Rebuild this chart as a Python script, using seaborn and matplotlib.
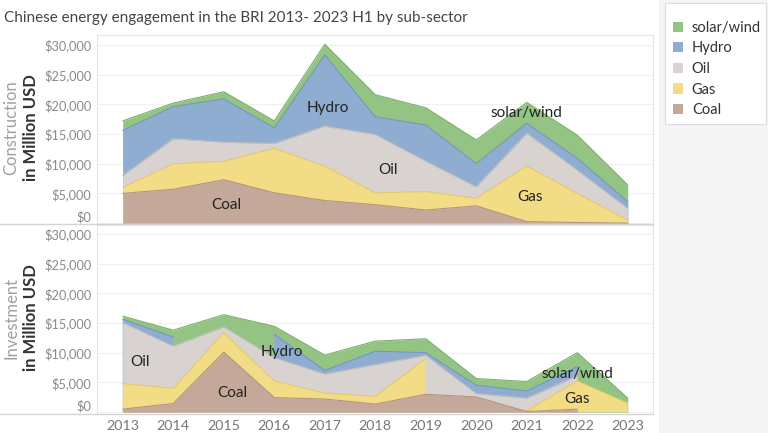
import matplotlib.pyplot as plt
import matplotlib.patches as mpatches
import matplotlib.lines as mlines
import matplotlib.transforms as mtrans
import numpy as np
import seaborn as sns

years = list(range(2013, 2024))
sectors = ["Coal", "Gas", "Oil", "Hydro", "solar/wind"]

# Construction, million USD (nan = no record that year)
con_coal = [5000, 5700, 7300, 5100, 3800, 3100, 2200, 2900, 250, 100, 0]
con_gas = [1000, 4300, 3100, 7500, 5800, 2000, 3100, 1300, 9350, 4900, 500]
con_oil = [2000, 4200, 3200, 800, 6700, 9800, 5100, 1900, 5500, 3900, 1950]
con_hydro = [7600, 5400, 7300, 2600, 12000, 3000, 6100, 3900, 1700, 2000, 1150]
con_solar = [1600, 600, 1200, 1200, 1800, 3700, 2900, 4000, 3500, 3900, 2800]

# Investment, million USD
inv_coal = [500, 1450, 10100, 2450, 2200, 1350, 3000, 2550, 100, 500, np.nan]
inv_gas = [4300, 2550, 3250, 2800, 1000, 1300, 6000, np.nan, 100, 4750, 1500]
inv_oil = [10250, 7100, 1000, 3900, 3200, 5350, 550, 550, 2150, 850, np.nan]
inv_hydro = [600, 1550, np.nan, 3950, 600, 2250, 450, 1450, 1200, 1550, np.nan]
inv_solar = [500, 1150, 2050, 1350, 2600, 1700, 2350, 1100, 1600, 2350, 850]

colors = ["#c4a899", "#f3dc86", "#d8d3d0", "#8eadd0", "#93c483"]
edges = ["#b39483", "#e6c96a", "#c6bfbb", "#7597bf", "#7bb06a"]

sns.set_theme(style="white")
plt.rcParams["font.family"] = ["Lato", "DejaVu Sans"]

fig = plt.figure(figsize=(7.68, 4.33), dpi=100)
W, H = 768, 433


def box(x0, y0, x1, y1):
    return [x0 / W, 1 - y1 / H, (x1 - x0) / W, (y1 - y0) / H]


# light grey side panel and legend box
fig.patches.append(mpatches.Rectangle((659 / W, 0), 1, 1, transform=fig.transFigure,
                                      facecolor="#f4f4f4", edgecolor="none", zorder=0))
fig.patches.append(mpatches.Rectangle((665 / W, 1 - 124 / H), 101 / W, 121 / H,
                                      transform=fig.transFigure, facecolor="white",
                                      edgecolor="#dcdcdc", lw=0.8, zorder=1))
# panel separators running across the label column
for yy in (224.5, 413.5):
    fig.lines.append(mlines.Line2D([0, 653 / W], [1 - yy / H] * 2, transform=fig.transFigure,
                                   color="#d4d4d4", lw=1.0))

ax1 = fig.add_axes(box(97, 35, 653, 224))
ax2 = fig.add_axes(box(97, 225, 653, 413))


def draw(ax, series):
    vals = np.array(series, dtype=float)
    cum = np.cumsum(np.nan_to_num(vals), axis=0)
    for i in reversed(range(len(sectors))):
        top = np.where(np.isnan(vals[i]), np.nan, cum[i])
        ax.fill_between(years, 0, top, color=colors[i], lw=0, zorder=2)
        ax.plot(years, top, color=edges[i], lw=0.8, zorder=3)


draw(ax1, [con_coal, con_gas, con_oil, con_hydro, con_solar])
draw(ax2, [inv_coal, inv_gas, inv_oil, inv_hydro, inv_solar])

lift = mtrans.ScaledTranslation(0, 7 / 100, fig.dpi_scale_trans)
for ax, ytop in [(ax1, 31650), (ax2, 31500)]:
    ax.set_xlim(2012.49, 2023.5)
    ax.set_ylim(-150, ytop)
    ax.set_yticks(range(0, 30001, 5000))
    ax.set_yticklabels([f"${v:,}" for v in range(0, 30001, 5000)], color="#8a8a8a", fontsize=9.2)
    ax.tick_params(axis="y", length=0, pad=4)
    ax.grid(axis="y", color="#f0f0f0", lw=0.8, zorder=0)
    zero = ax.get_yticklabels()[0]
    zero.set_transform(zero.get_transform() + lift)
    for s in ["left", "right", "top"]:
        ax.spines[s].set_color("#e4e4e4")
        ax.spines[s].set_linewidth(0.8)
    ax.spines["bottom"].set_visible(False)

ax1.set_xticks([])
ax2.set_xticks(years)
ax2.set_xticklabels([str(y) for y in years], color="#777777", fontsize=10.3)
ax2.tick_params(axis="x", length=0, pad=5)

# axis titles: two lines, light grey and dark
for name, yc in [("Construction", 128), ("Investment", 318)]:
    fig.text(11 / W, 1 - yc / H, name, rotation=90, ha="center", va="center",
             color="#a0a0a0", fontsize=12)
    fig.text(31 / W, 1 - yc / H, "in Million USD", rotation=90, ha="center", va="center",
             color="#333333", fontsize=12, fontweight="bold")

fig.text(4 / W, 1 - 18 / H, "Chinese energy engagement in the BRI 2013- 2023 H1 by sub-sector",
         ha="left", va="center", color="#444444", fontsize=11)

# in-chart labels
lab = dict(ha="center", va="center", color="#222222", fontsize=11, zorder=5)
ax1.text(2017.06, 19400, "Hydro", **lab)
ax1.text(2018.25, 8900, "Oil", **lab)
ax1.text(2015.06, 3000, "Coal", **lab)
ax1.text(2021.0, 18500, "solar/wind", **lab)
ax1.text(2021.06, 4400, "Gas", **lab)
ax2.text(2013.34, 8400, "Oil", **lab)
ax2.text(2015.16, 3300, "Coal", **lab)
ax2.text(2016.15, 10200, "Hydro", **lab)
ax2.text(2022.0, 6400, "solar/wind", **lab)
ax2.text(2022.0, 2200, "Gas", **lab)

handles = [mpatches.Patch(facecolor=colors[i], edgecolor="none", label=sectors[i])
           for i in reversed(range(len(sectors)))]
fig.legend(handles=handles, loc="upper left", bbox_to_anchor=(667 / W, 1 - 15 / H),
           frameon=False, fontsize=10.5, handlelength=0.7, handleheight=0.7,
           handletextpad=0.6, labelspacing=0.45, labelcolor="#333333", borderaxespad=0)

fig.savefig("out.png", dpi=100)
